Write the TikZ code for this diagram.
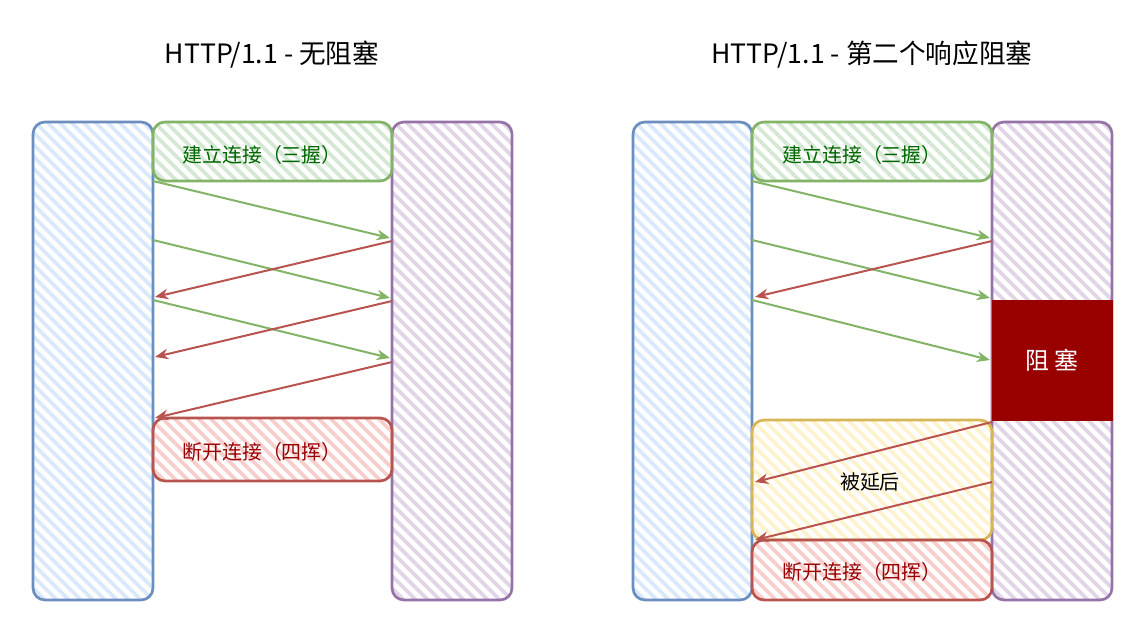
\documentclass[tikz,border=0pt]{standalone}
\usepackage{fontspec}
\setmainfont{Noto Sans CJK SC}
\usetikzlibrary{arrows.meta}
\definecolor{gfill}{HTML}{D5E8D4}\definecolor{gline}{HTML}{82B366}
\definecolor{bfill}{HTML}{DAE8FC}\definecolor{bline}{HTML}{6C8EBF}
\definecolor{pfill}{HTML}{E1D5E7}\definecolor{pline}{HTML}{9673A6}
\definecolor{rfill}{HTML}{F8CECC}\definecolor{rline}{HTML}{B85450}
\definecolor{yfill}{HTML}{FFF2CC}\definecolor{yline}{HTML}{D6B656}
\definecolor{dred}{HTML}{990000}\definecolor{dgreen}{HTML}{006600}
\newcommand{\hatchrect}[6]{%
 \begin{scope}
 \clip[rounded corners=9] (#1,#2) rectangle (#3,#4);
 \pgfmathtruncatemacro{\hh}{#4-#2}
 \pgfmathtruncatemacro{\hs}{-#4+#2+12}
 \pgfmathtruncatemacro{\hm}{-#4+#2}
 \pgfmathtruncatemacro{\ww}{#3-#1}
 \foreach \i in {\hm,\hs,...,\ww} \draw[#5,line width=2.8pt] (#1+\i,#2) -- ++(\hh,\hh);
 \end{scope}
 \draw[#6,line width=2pt,rounded corners=9] (#1,#2) rectangle (#3,#4);}
\tikzset{garr/.style={gline,line width=1.5pt,-{Stealth[length=10pt,width=8pt]}},
 rarr/.style={rline,line width=1.5pt,-{Stealth[length=10pt,width=8pt]}},
 ttl/.style={font=\fontsize{20}{24}\selectfont},
 lbl/.style={font=\fontsize{15}{18}\selectfont}}
\begin{document}
\begin{tikzpicture}[x=0.0264cm,y=-0.0264cm]
\useasboundingbox (0,0) rectangle (1143,633);
% left
\node[ttl] (t1) at (272,55) {HTTP/1.1 - 无阻塞};
\hatchrect{33}{122}{153}{600}{bfill}{bline}
\hatchrect{392}{122}{512}{600}{pfill}{pline}
\hatchrect{153}{122}{392}{181}{gfill}{gline}
\hatchrect{153}{418}{392}{481}{rfill}{rline}
\node[lbl,text=dgreen] (g1) at (262,155) {建立连接（三握）};
\node[lbl,text=dred] (r1) at (262,452) {断开连接（四挥）};
\coordinate (a1) at (153,181); \coordinate (b1) at (390,238);
\coordinate (a2) at (153,240); \coordinate (b2) at (390,298);
\coordinate (a3) at (153,300); \coordinate (b3) at (390,358);
\coordinate (c1) at (392,241); \coordinate (d1) at (155,297);
\coordinate (c2) at (392,301); \coordinate (d2) at (155,357);
\coordinate (c3) at (392,362); \coordinate (d3) at (155,418);
\draw[garr] (a1)--(b1); \draw[garr] (a2)--(b2); \draw[garr] (a3)--(b3);
\draw[rarr] (c1)--(d1); \draw[rarr] (c2)--(d2); \draw[rarr] (c3)--(d3);
% right
\node[ttl] (t2) at (872,55) {HTTP/1.1 - 第二个响应阻塞};
\hatchrect{633}{122}{752}{600}{bfill}{bline}
\hatchrect{992}{122}{1112}{600}{pfill}{pline}
\hatchrect{752}{122}{992}{181}{gfill}{gline}
\hatchrect{752}{420}{992}{540}{yfill}{yline}
\hatchrect{752}{540}{992}{600}{rfill}{rline}
\node[lbl,text=dgreen] (g2) at (862,155) {建立连接（三握）};
\node[lbl,text=dred] (r2) at (862,572) {断开连接（四挥）};
\node[lbl] (y2) at (870,482) {被延后};
\node[fill=dred,draw=dred,minimum width=3.168cm,minimum height=3.168cm,inner sep=0,text=white,font=\fontsize{18}{21}\selectfont] (blk) at (1052,360) {阻 塞};
\coordinate (e1) at (752,181); \coordinate (f1) at (990,238);
\coordinate (e2) at (752,240); \coordinate (f2) at (990,298);
\coordinate (e3) at (752,300); \coordinate (f3) at (990,360);
\coordinate (h1) at (992,241); \coordinate (k1) at (755,297);
\coordinate (h2) at (992,422); \coordinate (k2) at (755,482);
\coordinate (h3) at (992,482); \coordinate (k3) at (755,540);
\draw[garr] (e1)--(f1); \draw[garr] (e2)--(f2); \draw[garr] (e3)--(f3);
\draw[rarr] (h1)--(k1); \draw[rarr] (h2)--(k2); \draw[rarr] (h3)--(k3);
\end{tikzpicture}
\end{document}
